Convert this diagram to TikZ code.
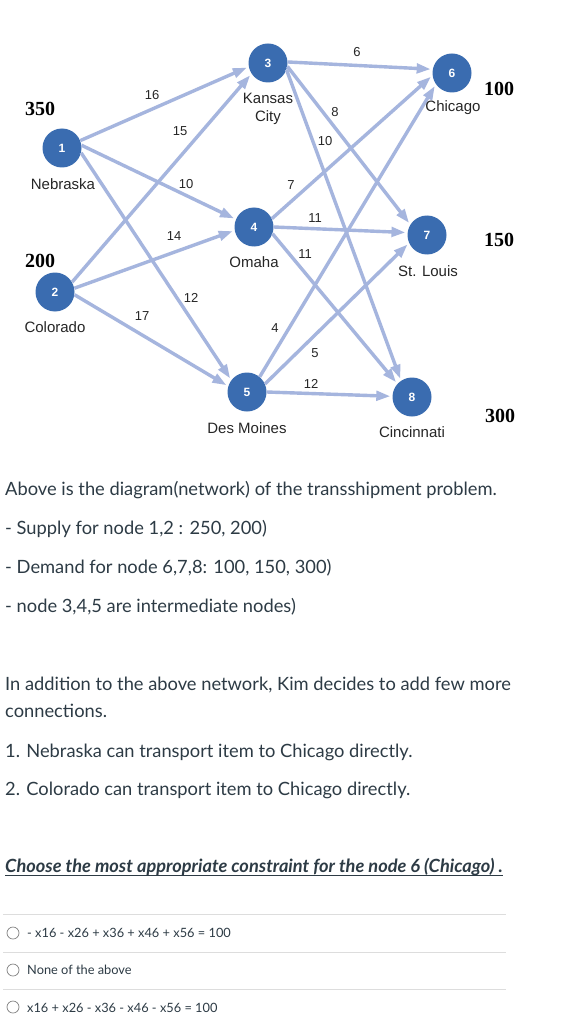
\documentclass[tikz,border=0pt]{standalone}
\usepackage{fontspec}
\setmainfont{Lato}
\newfontfamily\netfont{Liberation Sans}
\newfontfamily\numfont{Liberation Serif}
\usetikzlibrary{arrows.meta}
\definecolor{nodeblue}{HTML}{3A6CB0}
\definecolor{edgeblue}{HTML}{A5B5DE}
\definecolor{rulegray}{HTML}{DDDDDD}
\definecolor{txtgray}{HTML}{2D3B45}
\begin{document}
\begin{tikzpicture}[x=1pt,y=-1pt,
  city/.style={circle, fill=nodeblue, minimum size=39pt, inner sep=0pt, text=white, font=\netfont\bfseries\fontsize{12}{12}\selectfont},
  place/.style={font=\netfont\fontsize{15}{18}\selectfont, text=black!85, align=center},
  cost/.style={font=\netfont\fontsize{13}{13}\selectfont, text=black!85, inner sep=1pt},
  amount/.style={font=\numfont\bfseries\fontsize{20}{20}\selectfont},
  route/.style={draw=edgeblue, line width=3.4pt, -{Triangle[length=14pt,width=9.5pt]}, shorten >=2pt},
  para/.style={anchor=base west, inner sep=0pt, font=\fontsize{18.3}{22}\selectfont, text=txtgray},
  choice/.style={anchor=base west, inner sep=0pt, font=\fontsize{12.8}{15}\selectfont, text=txtgray},
  radio/.style={circle, draw=gray, line width=0.7pt, minimum size=12pt, inner sep=0pt},
  divider/.style={draw=rulegray, line width=0.8pt}]
\useasboundingbox[fill=white] (0,0) rectangle (563,1024);
% network
\node[city] (n1) at (62,148) {1};
\node[city] (n2) at (55,292) {2};
\node[city] (n3) at (268,63) {3};
\node[city] (n4) at (254,227) {4};
\node[city] (n5) at (247,392) {5};
\node[city] (n6) at (452,73) {6};
\node[city] (n7) at (427,235) {7};
\node[city] (n8) at (412,397) {8};
\draw[route] (n1.22) -- (n3.191);
\draw[route] (n1.8) -- (n4.157);
\draw[route] (n1.-14) -- (n5.143);
\draw[route] (n2.30) -- (n3.213);
\draw[route] (n2.11) -- (n4.190);
\draw[route] (n2.-8) -- (n5.163);
\draw[route] (n3.3) -- (n6.169);
\draw[route] (n3.-10) -- (n7.148);
\draw[route] (n3.-20) -- (n8.124);
\draw[route] (n4.25) -- (n6.187);
\draw[route] (n4.0) -- (n7.173);
\draw[route] (n4.-20) -- (n8.138);
\draw[route] (n5.50) -- (n6.215);
\draw[route] (n5.24) -- (n7.204);
\draw[route] (n5.0) -- (n8.178);
\node[place] (nebraska) at (63,184) {Nebraska};
\node[place] (colorado) at (55,327) {Colorado};
\node[place] (kansas) at (268,109) {Kansas\\City};
\node[place] (omaha) at (254,262) {Omaha};
\node[place] (desmoines) at (247,428) {Des Moines};
\node[place] (chicago) at (453,108) {Chicago};
\node[place] (stlouis) at (428,271) {St. Louis};
\node[place] (cincinnati) at (412,432) {Cincinnati};
\node[amount] (s1) at (40,109) {350};
\node[amount] (s2) at (40,261) {200};
\node[amount] (d6) at (499,89) {100};
\node[amount] (d7) at (499,240) {150};
\node[amount] (d8) at (500,416) {300};
\node[cost] (c13) at (152,95) {16};
\node[cost] (c23) at (180,131) {15};
\node[cost] (c14) at (186,184) {10};
\node[cost] (c24) at (174,236) {14};
\node[cost] (c15) at (191,298) {12};
\node[cost] (c25) at (142,316) {17};
\node[cost] (c36) at (357,52) {6};
\node[cost] (c37) at (335,112) {8};
\node[cost] (c38) at (325,141) {10};
\node[cost] (c46) at (291,185) {7};
\node[cost] (c47) at (315,218) {11};
\node[cost] (c48) at (305,254) {11};
\node[cost] (c56) at (275,328) {4};
\node[cost] (c57) at (315,353) {5};
\node[cost] (c58) at (311,384) {12};
% question text
\node[para] (t1) at (5,495) {Above is the diagram(network) of the transshipment problem.};
\node[para] (t2) at (5,534) {- Supply for node 1,2 : 250, 200)};
\node[para] (t3) at (5,573) {- Demand for node 6,7,8: 100, 150, 300)};
\node[para] (t4) at (5,612) {- node 3,4,5 are intermediate nodes)};
\node[para] (t5) at (5,690) {In addition to the above network, Kim decides to add few more};
\node[para] (t6) at (5,717) {connections.};
\node[para] (t7) at (5,757) {1. Nebraska can transport item to Chicago directly.};
\node[para] (t8) at (5,795) {2. Colorado can transport item to Chicago directly.};
\node[para, font=\bfseries\itshape\fontsize{18.2}{22}\selectfont] (ask) at (5,872) {Choose the most appropriate constraint for the node 6 (Chicago) .};
\draw[txtgray, line width=1pt] ([yshift=-3pt]ask.base west) -- ([yshift=-3pt]ask.base east);
% answers
\draw[divider] (3,914) -- (506,914);
\draw[divider] (3,952) -- (506,952);
\draw[divider] (3,989) -- (506,989);
\node[radio] (r1) at (13,933) {};
\node[radio] (r2) at (13,970) {};
\node[radio] (r3) at (13,1007) {};
\node[choice] (a1) at (27,937) {- x16 - x26 + x36 + x46 + x56 = 100};
\node[choice] (a2) at (27,974) {None of the above};
\node[choice] (a3) at (27,1012) {x16 + x26 - x36 - x46 - x56 = 100};
\end{tikzpicture}
\end{document}
